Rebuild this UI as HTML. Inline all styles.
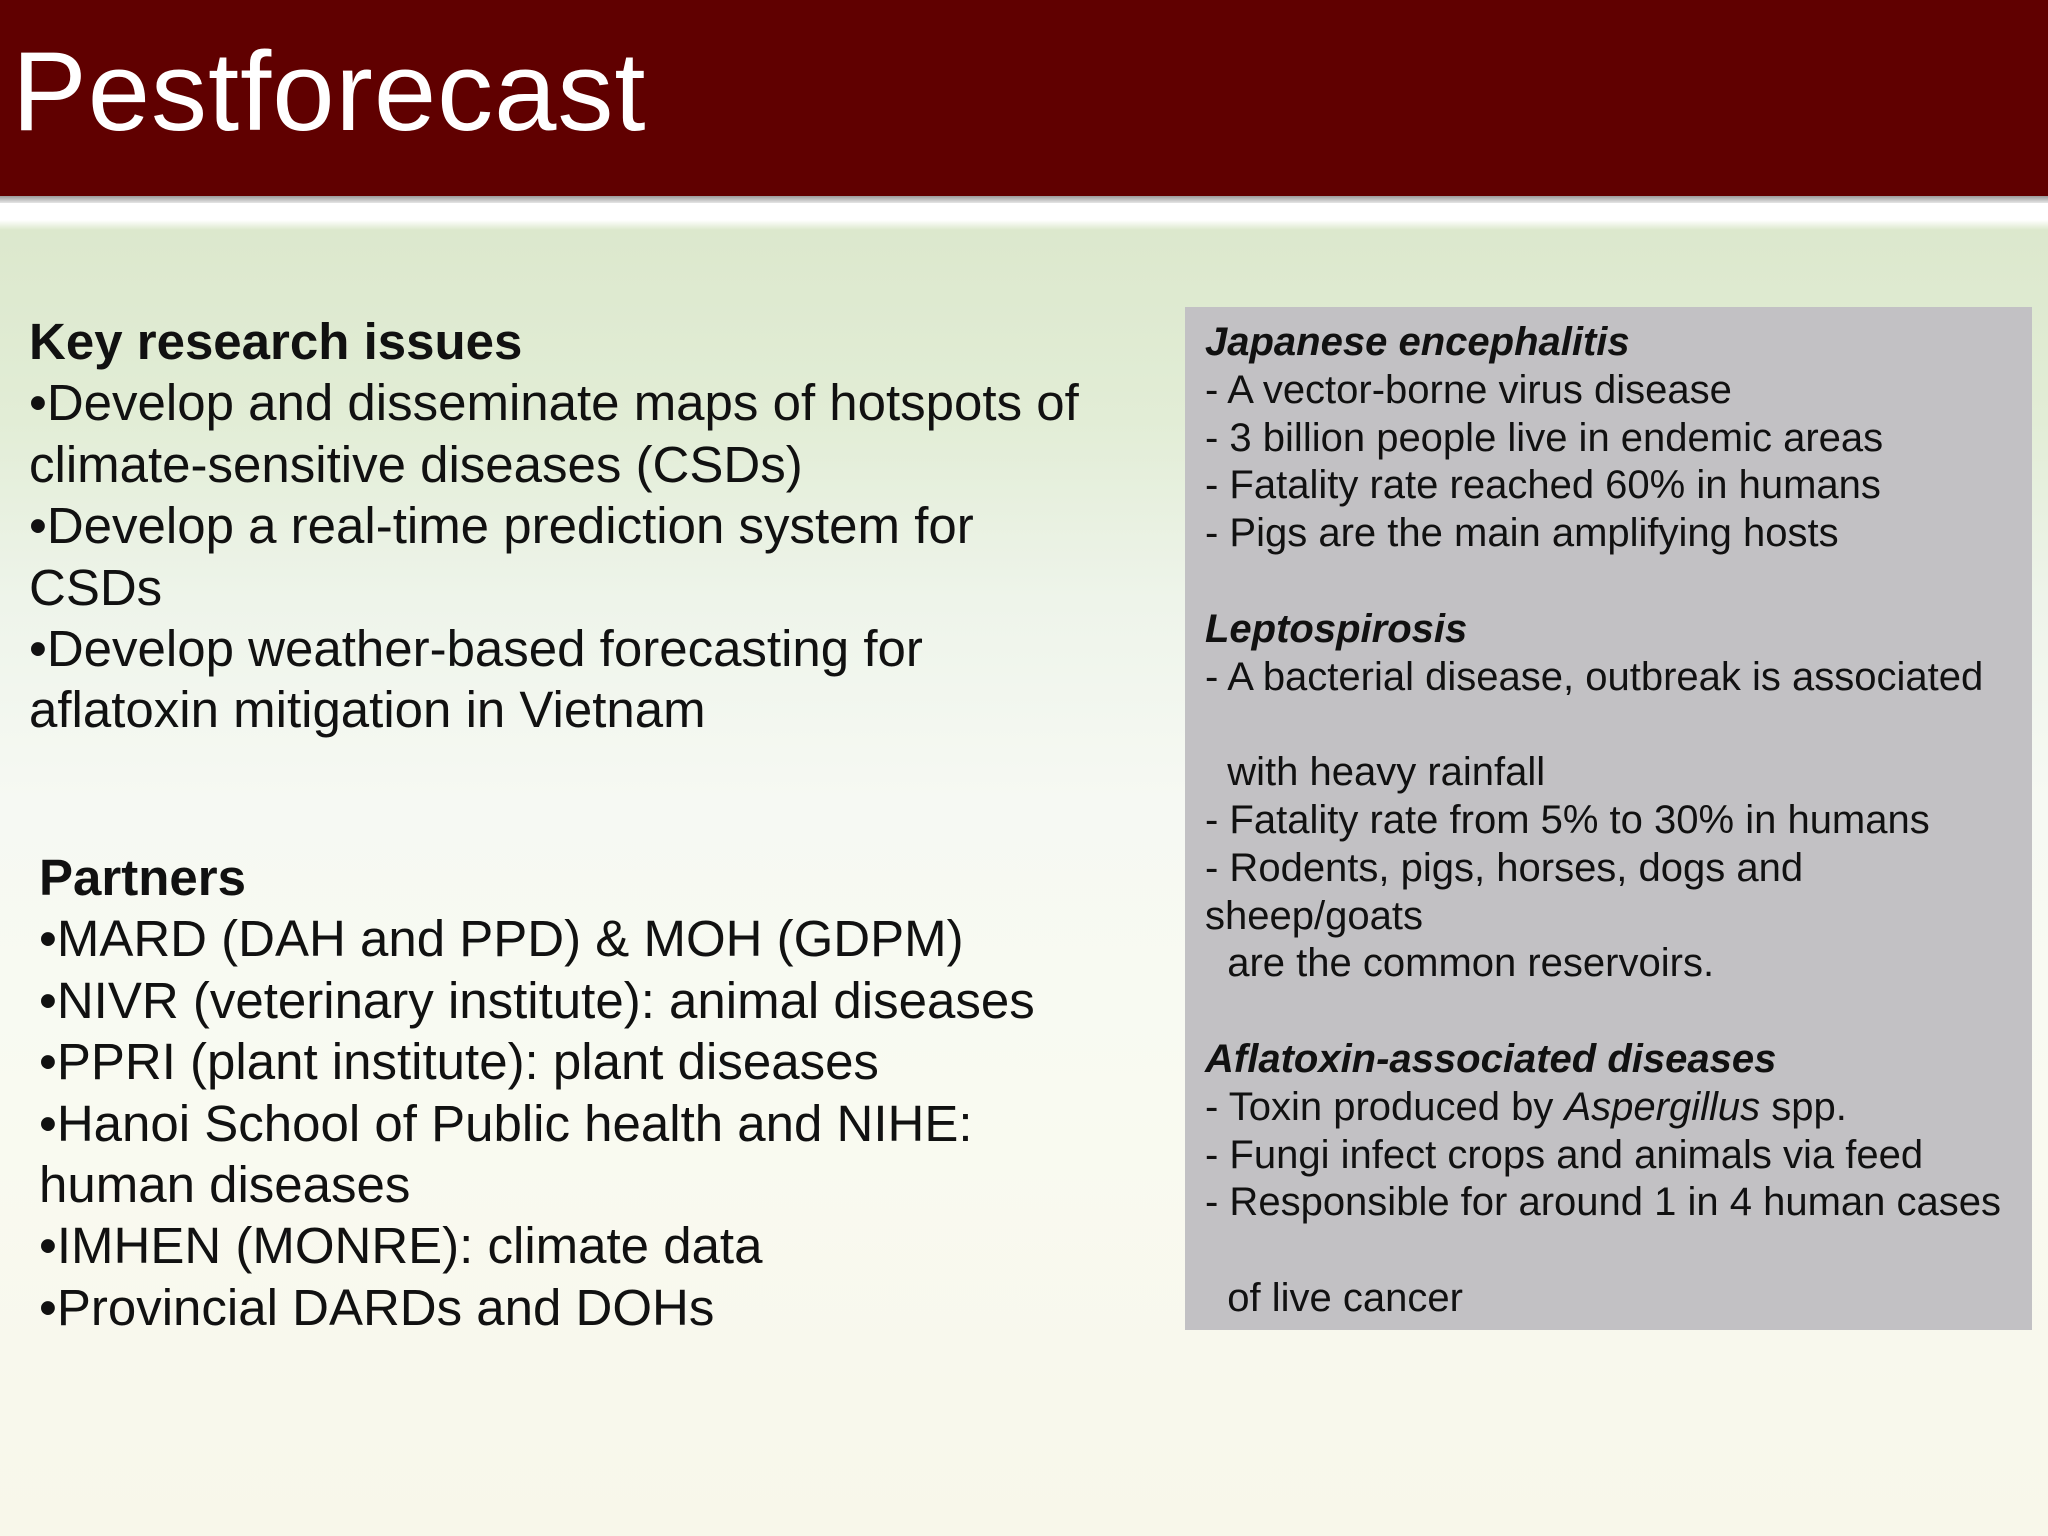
<!DOCTYPE html>
<html><head><meta charset="utf-8"><style>
html,body{margin:0;padding:0}
body{width:2048px;height:1536px;position:relative;overflow:hidden;font-family:"Liberation Sans",Arial,sans-serif;
background:linear-gradient(to bottom,#ffffff 0px,#ffffff 220px,#dce8cd 230px,#e2edd6 420px,#eef4ea 600px,#f6f9f3 800px,#f9faf1 1100px,#f8f7ea 1536px);}
#hdr{position:absolute;left:0;top:0;width:2048px;height:196px;background:#600000;}
#shadow{position:absolute;left:0;top:196px;width:2048px;height:7px;background:linear-gradient(#9a9a9a,#e6e6e6);}
#title{position:absolute;left:12px;top:22px;font-size:112px;color:#fff;line-height:140px;letter-spacing:1px}
.l{position:absolute;font-size:51px;line-height:61.4px;color:#111;white-space:nowrap}
#box{position:absolute;left:1185px;top:307px;width:847px;height:1023px;background:#c2c1c4;}
#r{position:absolute;left:1205px;top:319px;font-size:40px;line-height:47.8px;color:#111;white-space:pre}
</style></head><body>
<div id="hdr"></div><div id="shadow"></div>
<div id="title">Pestforecast</div>
<div class="l" style="left:29px;top:311px"><b>Key research issues</b><br>•Develop and disseminate maps of hotspots of<br>climate-sensitive diseases (CSDs)<br>•Develop a real-time prediction system for<br>CSDs<br>•Develop weather-based forecasting for<br>aflatoxin mitigation in Vietnam</div>
<div class="l" style="left:39px;top:847px"><b>Partners</b><br>•MARD (DAH and PPD) &amp; MOH (GDPM)<br>•NIVR (veterinary institute): animal diseases<br>•PPRI (plant institute): plant diseases<br>•Hanoi School of Public health and NIHE:<br>human diseases<br>•IMHEN (MONRE): climate data<br>•Provincial DARDs and DOHs</div>
<div id="box"></div>
<div id="r"><b><i>Japanese encephalitis</i></b>
- A vector-borne virus disease
- 3 billion people live in endemic areas
- Fatality rate reached 60% in humans
- Pigs are the main amplifying hosts

<b><i>Leptospirosis</i></b>
- A bacterial disease, outbreak is associated

  with heavy rainfall
- Fatality rate from 5% to 30% in humans
- Rodents, pigs, horses, dogs and
sheep/goats
  are the common reservoirs.

<b><i>Aflatoxin-associated diseases</i></b>
- Toxin produced by <i>Aspergillus</i> spp.
- Fungi infect crops and animals via feed
- Responsible for around 1 in 4 human cases

  of live cancer</div>
</body></html>
